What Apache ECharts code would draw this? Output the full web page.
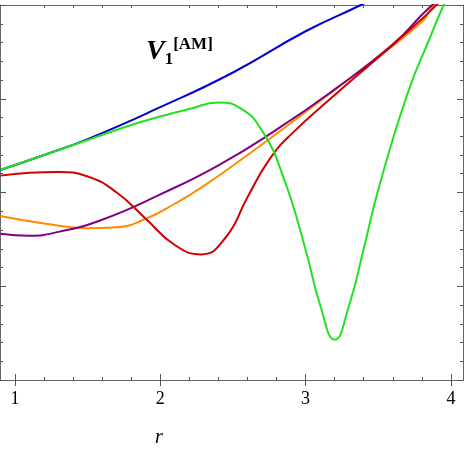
<!DOCTYPE html>
<html><head><meta charset="utf-8">
<script src="https://cdn.jsdelivr.net/npm/echarts@6/dist/echarts.min.js"></script>
<style>html,body{margin:0;padding:0;background:#fff}#c{width:474px;height:474px}</style>
</head><body><div id="c"></div>
<script>
// 数据 (r, V)
var blue = [[0.9,2.24],[1.2,2.40],[1.5,2.57],[2,2.91],[2.5,3.28],[3,3.72],[3.38,4.0],[3.5,4.1]];
var green = [[0.9,2.24],[1.2,2.40],[1.5,2.56],[1.8,2.72],[2,2.81],[2.2,2.89],[2.4,2.96],[2.55,2.9],[2.7,2.66],[2.85,2.15],[3,1.39],[3.1,0.8],[3.2,0.43],[3.3,0.8],[3.4,1.4],[3.5,2.03],[3.7,3.05],[3.85,3.63],[3.95,4.0],[4.0,4.15]];
var red = [[0.9,2.18],[1.1,2.21],[1.3,2.22],[1.5,2.17],[1.7,2.0],[1.9,1.72],[2.1,1.44],[2.28,1.34],[2.45,1.52],[2.6,1.95],[2.75,2.35],[2.9,2.62],[3.2,3.04],[3.5,3.44],[3.8,3.85],[3.9,4.0],[4.0,4.15]];
var orange = [[0.9,1.75],[1.2,1.67],[1.5,1.62],[1.7,1.63],[1.9,1.72],[2.1,1.88],[2.3,2.07],[2.6,2.4],[3,2.86],[3.4,3.33],[3.8,3.82],[3.88,4.0],[4.0,4.15]];
var purple = [[0.9,1.56],[1.1,1.54],[1.3,1.58],[1.6,1.71],[2,1.98],[2.4,2.29],[2.8,2.67],[3.2,3.1],[3.6,3.58],[3.85,3.97],[4.0,4.15]];
var xTicks = [1, 2, 3, 4];
var xMinor = [1.2, 1.4, 1.6, 1.8, 2.2, 2.4, 2.6, 2.8, 3.2, 3.4, 3.6, 3.8];

(function() {
  var myChart = echarts.init(document.getElementById('c'));
  var tick = {show: true, inside: true, length: 6, lineStyle: {color: '#555'}};
  var minor = {show: true, splitNumber: 5, length: 3, lineStyle: {color: '#555'}};
  var line = {show: true, lineStyle: {color: '#666', width: 1}};
  function s(data, color) {
    return {type: 'line', data: data, smooth: 0.5, symbol: 'none', clip: true,
      lineStyle: {color: color, width: 2}};
  }
  function xa(pos, major, labels) {
    return {type: 'value', min: 0.897, max: 4.083, position: pos,
      axisLine: line, splitLine: {show: false},
      axisLabel: {show: labels, color: '#000', fontSize: 18, fontFamily: 'Liberation Serif', margin: 10, customValues: xTicks},
      axisTick: {show: true, inside: true, length: major ? 6 : 3, lineStyle: {color: '#555'}, customValues: major ? xTicks : xMinor}};
  }
  var option = {
    animation: false,
    grid: {left: 0, right: 11, top: 5, bottom: 94},
    xAxis: [xa('bottom', true, true), xa('top', true, false), xa('bottom', false, false), xa('top', false, false)],
    yAxis: [
      {type: 'value', min: 0, max: 4, interval: 1, position: 'left',
        axisLine: line, axisTick: tick, minorTick: minor, axisLabel: {show: false}, splitLine: {show: false}},
      {type: 'value', min: 0, max: 4, interval: 1, position: 'right',
        axisLine: line, axisTick: tick, minorTick: minor, axisLabel: {show: false}, splitLine: {show: false}}
    ],
    graphic: [
      {type: 'text', left: 146, top: 36, style: {
        rich: {v: {fontSize: 28, fontWeight: 'bold', fontStyle: 'italic', fontFamily: 'Liberation Serif'},
               sub: {fontSize: 17, fontWeight: 'bold', fontFamily: 'Liberation Serif', padding: [16, 0, 0, 0]},
               sup: {fontSize: 17, fontWeight: 'bold', fontFamily: 'Liberation Serif', padding: [0, 0, 14, 0]}},
        text: '{v|V}{sub|1}{sup|[AM]}', fill: '#000'}},
      {type: 'text', left: 155, top: 428, style: {text: 'r', fontSize: 20, fontStyle: 'italic', fontFamily: 'Liberation Serif', fill: '#000'}}
    ],
    series: [s(blue, '#0000cc'), s(orange, '#ff8c00'), s(purple, '#800080'), s(red, '#d00000'), s(green, '#22e022')]
  };
  myChart.setOption(option);
})();
</script></body></html>
